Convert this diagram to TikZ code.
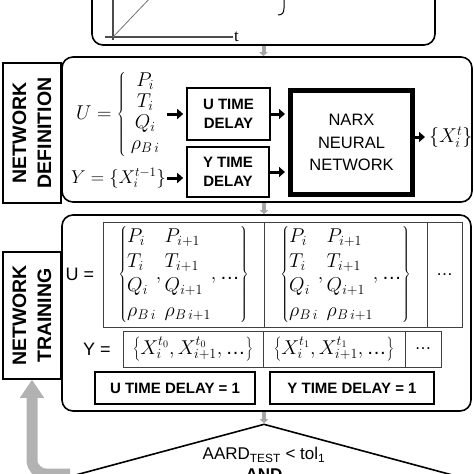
\RequirePackage{fix-cm}
\documentclass[tikz,border=0pt]{standalone}
\usepackage{fontspec}
\setmainfont{Liberation Sans}
\newfontfamily\plotfont{Liberation Serif}
\usetikzlibrary{arrows.meta,shapes.geometric}
\newcommand\tdots{\mbox{…}}

\begin{document}
\begin{tikzpicture}
	[
	x = {(1pt, 0pt)},
	y = {(0pt, -1pt)},
	outerbox/.style = {draw, line width = 1.6, rounded corners = 11, inner sep = 0},
	tagbox/.style = {draw, line width = 1.6, rotate = 90, align = center, inner sep = 0, font = \fontsize{19.5}{25}\selectfont\bfseries},
	delaybox/.style = {draw, line width = 1.6, align = center, inner sep = 0, font = \fontsize{15}{19}\selectfont\bfseries},
	cell/.style = {draw = black!75, line width = 0.9, inner sep = 0, font = \fontsize{20}{24.5}\selectfont},
	mathtext/.style = {inner sep = 1, font = \fontsize{20}{21}\selectfont},
	plaintext/.style = {inner sep = 0, font = \fontsize{17}{20}\selectfont},
	blackarrow/.style = {-{Triangle[width = 10pt, length = 6pt]}, line width = 3, shorten > = 3},
	greyarrow/.style = {-{Triangle[width = 8pt, length = 4pt]}, line width = 4, color = black!35},
	backarrow/.style = {-{Triangle[width = 23pt, length = 18pt]}, line width = 11, color = black!30, rounded corners = 14}]
	
	\useasboundingbox (0, 0) rectangle (474, 474);
	\clip (0, 0) rectangle (474, 474);
	
	%% Plot at the top
	
	\node[outerbox, minimum width = 343, minimum height = 80] (plotbox) at (263.5, 5) {};
	\draw[black!70, line width = 1.1] (113, -35) -- (113, 40);
	\draw[black!70, line width = 1.1] (105, 37) -- (233, 37);
	\draw[black!55, line width = 0.8] (113, 37) -- (152, -4);
	\node[inner sep = 0, anchor = base west, font = \plotfont\fontsize{17}{20}\selectfont] (taxis) at (234, 41) {t};
	\draw[line width = 1] (284, -4) -- (284, 8) .. controls (284, 13) and (282, 15) .. (278, 15);
	
	%% Network definition
	
	\node[outerbox, minimum width = 410, minimum height = 145] (defbox) at (267, 129.5) {};
	\node[tagbox, minimum width = 140, minimum height = 58] (deftag) at (32, 133) {NETWORK\\DEFINITION};
	
	\node[mathtext, anchor = east] (uin) at (167, 114) {$U=\left\{\begin{array}{c}P_i\\T_i\\Q_i\\\rho_{B\,i}\end{array}\right.$};
	\node[mathtext, anchor = east, font = \fontsize{18.5}{21}\selectfont] (yin) at (167, 178) {$Y=\{X_i^{t-1}\}$};
	\node[delaybox, minimum width = 83, minimum height = 52] (udelay) at (228.5, 114) {U TIME\\DELAY};
	\node[delaybox, minimum width = 82, minimum height = 50] (ydelay) at (228, 172) {Y TIME\\DELAY};
	\node[draw, line width = 5, minimum width = 122, minimum height = 104, align = center, font = \fontsize{16.5}{22.5}\selectfont] (narx) at (351.5, 142.5) {NARX\\NEURAL\\NETWORK};
	\node[mathtext, anchor = west] (xout) at (428, 137) {$\{X_i^t\}$};
	
	\draw[blackarrow] (uin.east) -- (udelay.west);
	\draw[blackarrow] (yin.east) -- (yin.east -| ydelay.west);
	\draw[blackarrow] (udelay.east) -- (udelay.east -| narx.west);
	\draw[blackarrow] (ydelay.east) -- (ydelay.east -| narx.west);
	\draw[blackarrow] (narx.east |- xout.west) -- (xout.west);
	
	%% Network training
	
	\node[outerbox, minimum width = 409, minimum height = 196] (trainbox) at (266.5, 313) {};
	\node[tagbox, minimum width = 127, minimum height = 58] (traintag) at (32, 315.5) {NETWORK\\TRAINING};
	
	\node[plaintext, font = \fontsize{18}{20}\selectfont] (ulabel) at (80, 274) {U =};
	\node[cell, minimum width = 161, minimum height = 105] (ucell1) at (183.5, 274.5) {$\left\{\begin{array}{@{}l@{}}P_i\\T_i\\Q_i\\\rho_{B\,i}\end{array}, \begin{array}{@{}l@{}}P_{i+1}\\T_{i+1}\\Q_{i+1}\\\rho_{B\,i+1}\end{array}, \tdots\right\}$};
	\node[cell, minimum width = 163, minimum height = 105] (ucell2) at (345.5, 274.5) {$\left\{\begin{array}{@{}l@{}}P_i\\T_i\\Q_i\\\rho_{B\,i}\end{array}, \begin{array}{@{}l@{}}P_{i+1}\\T_{i+1}\\Q_{i+1}\\\rho_{B\,i+1}\end{array}, \tdots\right\}$};
	\node[cell, minimum width = 35, minimum height = 105, font = \fontsize{17}{20}\selectfont] (ucell3) at (444.5, 274.5) {…};
	
	\node[plaintext, font = \fontsize{18}{20}\selectfont] (ylabel) at (97, 349) {Y =};
	\node[cell, minimum width = 140, minimum height = 36] (ycell1) at (193, 349) {$\left\{X_i^{t_0},X_{i+1}^{t_0},\tdots\right\}$};
	\node[cell, minimum width = 142, minimum height = 36] (ycell2) at (334, 349) {$\left\{X_i^{t_1},X_{i+1}^{t_1},\tdots\right\}$};
	\node[cell, minimum width = 36, minimum height = 36, font = \fontsize{17}{20}\selectfont] (ycell3) at (423, 349) {…};
	
	\node[delaybox, minimum width = 160, minimum height = 32] (udelayone) at (175, 388) {U TIME DELAY = 1};
	\node[delaybox, minimum width = 164, minimum height = 32] (ydelayone) at (352, 388) {Y TIME DELAY = 1};
	
	%% Stop test
	
	\node[draw, diamond, line width = 1.6, minimum width = 370, minimum height = 100, inner sep = 0] (check) at (264, 474) {};
	\node[plaintext] (crit) at (264, 455) {AARD\textsubscript{TEST} < tol\textsubscript{1}};
	\node[plaintext, font = \fontsize{17}{20}\selectfont\bfseries] (andline) at (264, 475) {AND};
	
	%% Grey arrows
	
	\draw[greyarrow] (plotbox.south) -- (plotbox.south |- defbox.north);
	\draw[greyarrow] (check.north |- defbox.south) -- (check.north |- trainbox.north);
	\draw[greyarrow] (check.north |- trainbox.south) -- (check.north);
	% the tag is turned, so its west side is at the bottom
	\draw[backarrow, shorten < = 8] (check.west) -| (traintag.west);
\end{tikzpicture}
\end{document}
